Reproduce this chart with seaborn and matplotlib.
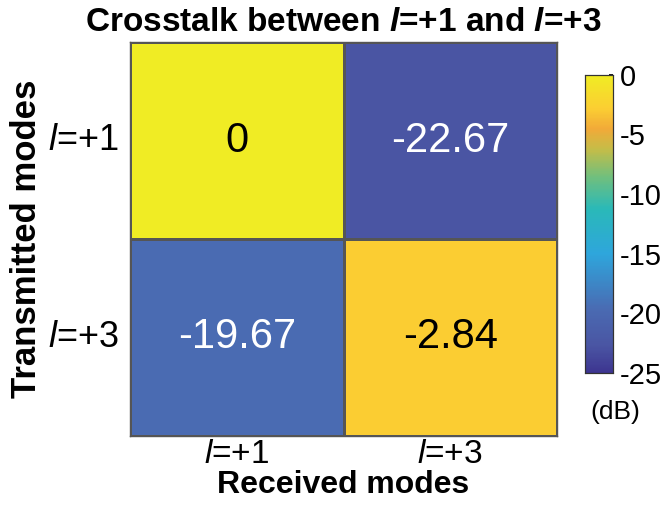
import numpy as np
import matplotlib
matplotlib.use("Agg")
import matplotlib.pyplot as plt
from matplotlib.colors import LinearSegmentedColormap
import seaborn as sns

# Data
tx_modes = [r"$\mathit{l}$=+1", r"$\mathit{l}$=+3"]
rx_modes = [r"$\mathit{l}$=+1", r"$\mathit{l}$=+3"]
crosstalk_db = [[0.0, -22.67],
                [-19.67, -2.84]]
cbar_ticks = [0, -5, -10, -15, -20, -25]

sns.set_theme(style="white")
plt.rcParams['font.family'] = ['Liberation Sans', 'DejaVu Sans']
plt.rcParams['text.color'] = 'black'
plt.rcParams['axes.labelcolor'] = 'black'
plt.rcParams['xtick.color'] = 'black'
plt.rcParams['ytick.color'] = 'black'
plt.rcParams['mathtext.fontset'] = 'custom'
plt.rcParams['mathtext.rm'] = 'Liberation Sans'
plt.rcParams['mathtext.it'] = 'Liberation Sans:italic'
plt.rcParams['mathtext.bf'] = 'Liberation Sans:bold'
plt.rcParams['mathtext.bfit'] = 'Liberation Sans:italic:bold'

# parula-like map, slightly washed like the reference
stops = [(0.00, '#3d3590'), (0.09, '#4a55a3'), (0.21, '#4a6ab2'),
         (0.40, '#2ea6dc'), (0.55, '#2ab9b8'), (0.66, '#72bf7c'),
         (0.75, '#c4bd48'), (0.82, '#f2aa38'), (0.89, '#fbcf32'),
         (1.00, '#f0ec24')]
parula = LinearSegmentedColormap.from_list('parula_like', stops)

df = np.array(crosstalk_db)

fig = plt.figure(figsize=(6.67, 5.08), dpi=100)
ax = fig.add_axes([0.195, 0.142, 0.64, 0.775])
cax = fig.add_axes([0.877, 0.266, 0.042, 0.587])

sns.heatmap(df, ax=ax, cbar_ax=cax, cmap=parula, vmin=-25, vmax=0,
            annot=True, fmt='g', annot_kws={'fontsize': 30},
            linewidths=1, linecolor='#555555',
            xticklabels=rx_modes, yticklabels=tx_modes,
            cbar_kws={'ticks': cbar_ticks})

for t in ax.texts:
    v = float(t.get_text())
    t.set_text('0' if v == 0 else f'{v:.2f}')
    if t.get_color() != 'w':
        t.set_color('black')

for side in ['top', 'bottom', 'left', 'right']:
    ax.spines[side].set_visible(True)
    ax.spines[side].set_color('#555555')
    ax.spines[side].set_linewidth(1)

ax.tick_params(axis='y', length=0, labelsize=26, pad=8)
ax.tick_params(axis='x', length=0, labelsize=24, pad=2)
ax.set_yticklabels(tx_modes, rotation=0)
ax.set_xticklabels(rx_modes, rotation=0)
ax.set_xlabel('Received modes', fontsize=23, fontweight='bold', labelpad=0)
ax.set_ylabel('Transmitted modes', fontsize=25, fontweight='bold', labelpad=4)
ax.set_title(r"Crosstalk between $\mathbfit{l}$=+1 and $\mathbfit{l}$=+3",
             fontsize=24, fontweight='bold', pad=8)

cax.tick_params(labelsize=21, length=3, direction='in', pad=5)
for s in cax.spines.values():
    s.set_visible(True)
    s.set_color('#333333')
    s.set_linewidth(0.8)
cax.set_yticklabels([str(t) for t in cbar_ticks])
cax.text(1.1, -0.09, '(dB)', transform=cax.transAxes, fontsize=19,
         ha='center', va='top')

fig.savefig('out.png', dpi=100)
